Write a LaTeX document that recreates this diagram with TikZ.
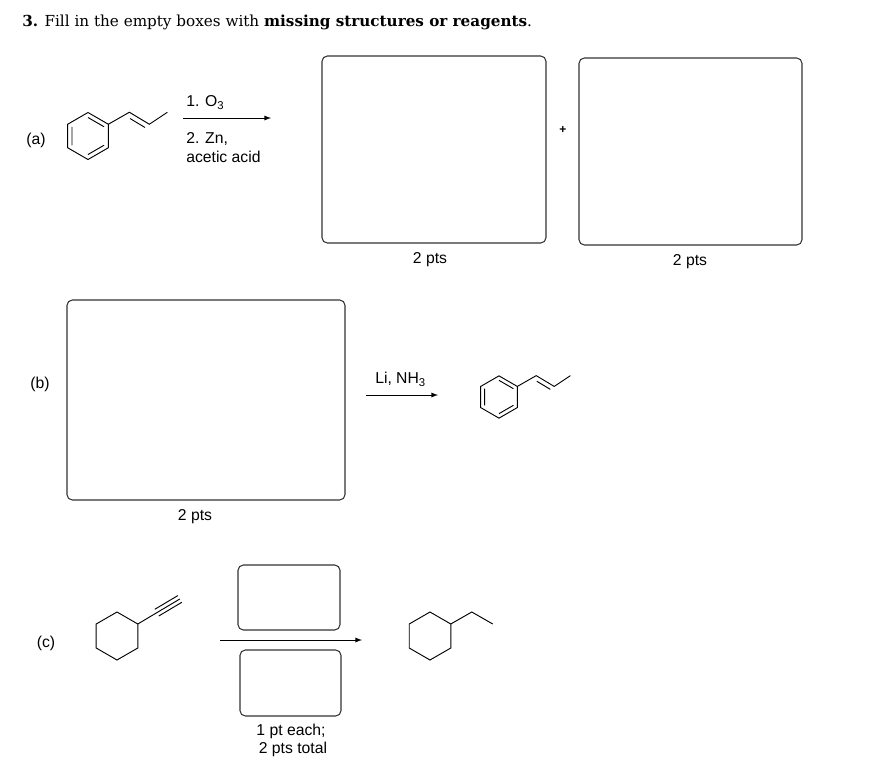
\documentclass[tikz,border=0pt]{standalone}
\usepackage{fontspec}
\usetikzlibrary{calc}
\setmainfont{Liberation Sans}
\newfontfamily\titlefont{DejaVu Serif}
\newcommand\lsub[1]{\raisebox{-0.35ex}{\fontsize{8.5pt}{9pt}\selectfont #1}}
\begin{document}
\begin{tikzpicture}[x=0.75pt,y=-0.75pt,
  box/.style={draw=black!80,line width=0.8pt,rounded corners=4pt},
  bond/.style={line width=0.7pt},
  lbl/.style={font=\fontsize{11.8pt}{13pt}\selectfont,inner sep=0pt},
  arr/.style={-latex,line width=0.7pt}]
\useasboundingbox (0,0) rectangle (876,779);
\node[anchor=west,inner sep=0pt,font=\titlefont\fontsize{11.4pt}{14pt}\selectfont] (title) at (22,22) {\textbf{3.} Fill in the empty boxes with \textbf{missing structures or reagents}.};
% (a)
\node[lbl] (la) at (36,140) {(a)};
\begin{scope}[shift={(88,136)}]
\draw[bond] (90:23.5)--(30:23.5)--(-30:23.5)--(-90:23.5)--(-150:23.5)--(150:23.5)--cycle;
\draw[bond] (150:18.5)--(-150:18.5) (-90:18.5)--(-30:18.5) (30:18.5)--(90:18.5);
\draw[bond] (-30:23.5)--++(21,-12)--++(20,12)--++(18,-12);
\end{scope}
\draw[bond] (130,118.5) -- (145,127.5);
\coordinate (aS) at (183,118); \coordinate (aE) at (271,118);
\draw[arr] (aS)--(aE);
\node[lbl,anchor=west] (a1t) at (186,103) {1. O\lsub{3}};
\node[lbl,anchor=west] (a2t) at (186,139) {2. Zn,};
\node[lbl,anchor=west] (a3t) at (186,157) {acetic acid};
\draw[box] (322,56) rectangle (546,243);
\draw[box] (579,58) rectangle (802,245);
\node[lbl,font=\fontsize{9pt}{10pt}\selectfont\bfseries] (plus) at (563,130) {+};
\node[lbl] (p1) at (430,260) {2 pts};
\node[lbl] (p2) at (690,262) {2 pts};
% (b)
\node[lbl] (lb) at (40,384) {(b)};
\draw[box] (67,300) rectangle (345,500);
\node[lbl] (p3) at (195,517) {2 pts};
\node[lbl,anchor=west] (lnh) at (375,379) {Li, NH\lsub{3}};
\coordinate (bS) at (366,395); \coordinate (bE) at (438,395);
\draw[arr] (bS)--(bE);
\begin{scope}[shift={(499,397)},scale=0.9]
\draw[bond] (90:23.5)--(30:23.5)--(-30:23.5)--(-90:23.5)--(-150:23.5)--(150:23.5)--cycle;
\draw[bond] (150:18.5)--(-150:18.5) (-90:18.5)--(-30:18.5) (30:18.5)--(90:18.5);
\draw[bond] (-30:23.5)--++(21,-12)--++(20,12)--++(18,-12);
\draw[bond] (42,-17.5) -- (57,-8.5);
\end{scope}
% (c)
\node[lbl] (lc) at (46,643) {(c)};
\begin{scope}[shift={(117,636)}]
\draw[bond] (90:24)--(30:24)--(-30:24)--(-90:24)--(-150:24)--(150:24)--cycle;
\draw[bond] (-30:24)--++(42,-25);
\draw[bond] ($(-30:24)+(21,-8)$)--++(23,-13.7);
\draw[bond] ($(-30:24)+(17,-14.7)$)--++(23,-13.7);
\end{scope}
\coordinate (cS) at (220,640); \coordinate (cE) at (362,640);
\draw[arr] (cS)--(cE);
\draw[box] (238,565) rectangle (340,630);
\draw[box] (240,650) rectangle (341,716);
\node[lbl] (p4) at (291,731) {1 pt each;};
\node[lbl] (p5) at (293,749) {2 pts total};
\begin{scope}[shift={(430,636)}]
\draw[bond] (90:24)--(30:24)--(-30:24)--(-90:24)--(-150:24)--(150:24)--cycle;
\draw[bond] (-30:24)--++(21,-12)--++(21,12);
\end{scope}
\end{tikzpicture}
\end{document}
